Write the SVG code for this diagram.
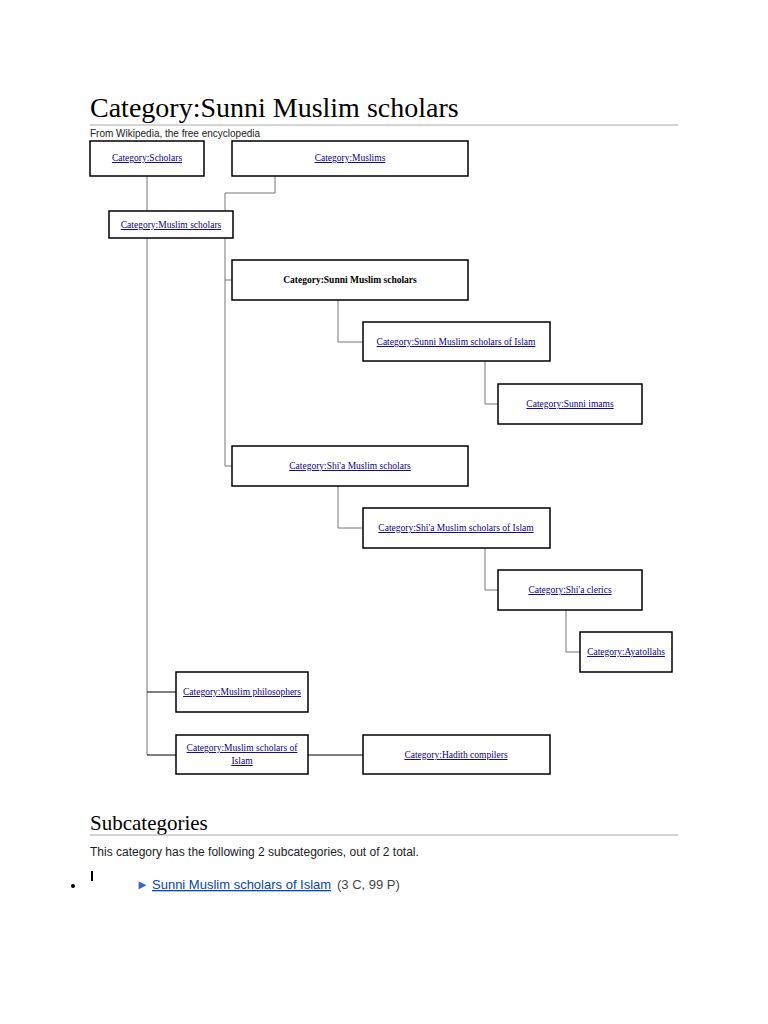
<svg xmlns="http://www.w3.org/2000/svg" width="768" height="1024" viewBox="0 0 768 1024">
<style>
.b{fill:#fff;stroke:#000;stroke-width:1.5}
.l{font-family:"Liberation Serif",serif;font-size:9.5px;fill:#0b0080;text-decoration:underline;text-anchor:middle}
.c{stroke:#777;stroke-width:1;fill:none}
.k{stroke:#000;stroke-width:1;fill:none}
.s{font-family:"Liberation Sans",sans-serif}
</style>
<rect width="768" height="1024" fill="#fff"/>
<text x="90" y="117" font-family="Liberation Serif,serif" font-size="28" fill="#000">Category:Sunni Muslim scholars</text>
<line x1="90" y1="125" x2="678" y2="125" stroke="#aaa"/>
<text x="90" y="137" class="s" font-size="10" fill="#222">From Wikipedia, the free encyclopedia</text>
<g id="connectors">
<path class="c" d="M147 176V211M275 176V193H225V466M225 280H232M225 466H232M147 238V755"/>
<path class="k" d="M147 692H176M147 755H176M308 755H363"/>
<path class="c" d="M338 300V342H363M485 361V404H498M338 486V528H363M485 548V590H498M566 610V652H580"/>
</g>
<g id="n1"><rect class="b" x="90" y="141" width="114" height="35"/><text class="l" x="147" y="161">Category:Scholars</text></g>
<g id="n2"><rect class="b" x="232" y="141" width="236" height="35"/><text class="l" x="350" y="161">Category:Muslims</text></g>
<g id="n3"><rect class="b" x="109" y="211" width="124" height="27"/><text class="l" x="171" y="228">Category:Muslim scholars</text></g>
<g id="n4"><rect class="b" x="232" y="260" width="236" height="40"/><text x="350" y="283" font-family="Liberation Serif,serif" font-size="9.5" font-weight="bold" text-anchor="middle">Category:Sunni Muslim scholars</text></g>
<g id="n5"><rect class="b" x="363" y="322" width="187" height="39"/><text class="l" x="456" y="345">Category:Sunni Muslim scholars of Islam</text></g>
<g id="n6"><rect class="b" x="498" y="384" width="144" height="40"/><text class="l" x="570" y="407">Category:Sunni imams</text></g>
<g id="n7"><rect class="b" x="232" y="446" width="236" height="40"/><text class="l" x="350" y="469">Category:Shi'a Muslim scholars</text></g>
<g id="n8"><rect class="b" x="363" y="508" width="187" height="40"/><text class="l" x="456" y="531">Category:Shi'a Muslim scholars of Islam</text></g>
<g id="n9"><rect class="b" x="498" y="570" width="144" height="40"/><text class="l" x="570" y="593">Category:Shi'a clerics</text></g>
<g id="n10"><rect class="b" x="580" y="632" width="92" height="40"/><text class="l" x="626" y="655">Category:Ayatollahs</text></g>
<g id="n11"><rect class="b" x="176" y="672" width="132" height="40"/><text class="l" x="242" y="695">Category:Muslim philosophers</text></g>
<g id="n12"><rect class="b" x="176" y="735" width="132" height="39"/><text class="l" x="242" y="751">Category:Muslim scholars of</text><text class="l" x="242" y="764">Islam</text></g>
<g id="n13"><rect class="b" x="363" y="735" width="187" height="39"/><text class="l" x="456" y="758">Category:Hadith compilers</text></g>
<text x="90" y="830" font-family="Liberation Serif,serif" font-size="21" fill="#000">Subcategories</text>
<line x1="90" y1="835" x2="678" y2="835" stroke="#aaa"/>
<text x="90" y="856" class="s" font-size="12" fill="#222">This category has the following 2 subcategories, out of 2 total.</text>
<rect x="91" y="871" width="2" height="10" fill="#000"/>
<circle cx="73" cy="886" r="2" fill="#000"/>
<text x="136" y="889" class="s" font-size="13" fill="#3366cc">►</text>
<text x="152" y="889" class="s" font-size="13" fill="#0645ad" text-decoration="underline">Sunni Muslim scholars of Islam</text>
<text x="337" y="889" class="s" font-size="13" fill="#444">(3 C, 99 P)</text>
</svg>
